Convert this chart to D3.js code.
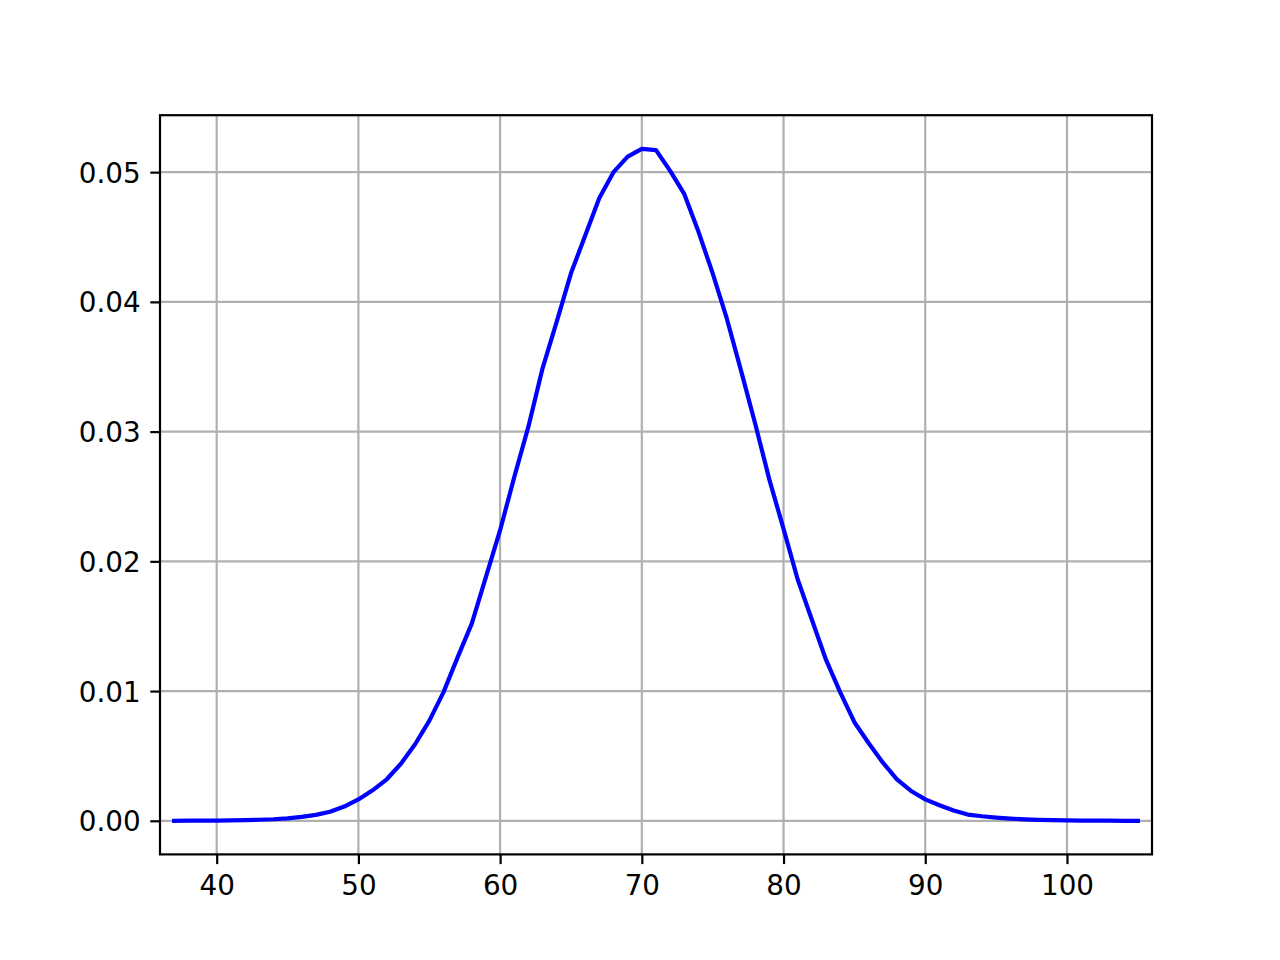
<!DOCTYPE html>
<html>
<head>
<meta charset="utf-8">
<script src="https://cdn.jsdelivr.net/npm/d3@7"></script>
<style>
    body { margin: 0; background: #fff; }
    svg { display: block; }
    text { font-family: "DejaVu Sans", sans-serif; }
</style>
</head>
<body>
<svg id="chart" width="1280" height="960"></svg>
<script>

// values, one per integer x
var xValues = [37, 38, 39, 40, 41, 42, 43, 44, 45, 46, 47, 48, 49, 50, 51, 52, 53, 54, 55, 56,
    57, 58, 59, 60, 61, 62, 63, 64, 65, 66, 67, 68, 69, 70, 71, 72, 73, 74, 75, 76,
    77, 78, 79, 80, 81, 82, 83, 84, 85, 86, 87, 88, 89, 90, 91, 92, 93, 94, 95, 96,
    97, 98, 99, 100, 101, 102, 103, 104, 105];

var yValues = [0.00000, 0.00001, 0.00001, 0.00002, 0.00003, 0.00005, 0.00008, 0.00012, 0.00019, 0.00030,
    0.00046, 0.00070, 0.00110, 0.00165, 0.00235, 0.00320, 0.00440, 0.00590, 0.00770, 0.00990,
    0.01260, 0.01520, 0.01880, 0.02240, 0.02650, 0.03040, 0.03490, 0.03850, 0.04220, 0.04510,
    0.04800, 0.05000, 0.05120, 0.05180, 0.05170, 0.05010, 0.04830, 0.04540, 0.04220, 0.03870,
    0.03470, 0.03060, 0.02630, 0.02250, 0.01860, 0.01550, 0.01240, 0.00990, 0.00760, 0.00600,
    0.00450, 0.00320, 0.00230, 0.00165, 0.00120, 0.00080, 0.00048, 0.00035, 0.00025, 0.00017,
    0.00011, 0.00007, 0.00005, 0.00003, 0.00002, 0.00001, 0.00001, 0.00000, 0.00000];

var xTicks = [40, 50, 60, 70, 80, 90, 100];
var yTicks = [0.00, 0.01, 0.02, 0.03, 0.04, 0.05];

var xDomain = [36, 106];

var svg = d3.select('#chart');

var width = +svg.attr('width'),
    height = +svg.attr('height'),
    margin = {top: 115.2, right: 128, bottom: 105.6, left: 160};

var plotW = width - margin.left - margin.right,
    plotH = height - margin.top - margin.bottom;

var data = xValues.map(function (x, i) {
    return {x: x, y: yValues[i]};
});

// matplotlib-like 5% padding on y
var yMax = d3.max(yValues), yMin = d3.min(yValues);
var yPad = (yMax - yMin) * 0.05;

var xScale = d3.scaleLinear()
    .domain(xDomain)
    .range([0, plotW]);

var yScale = d3.scaleLinear()
    .domain([yMin - yPad, yMax + yPad])
    .range([plotH, 0]);

var g = svg.append('g')
    .attr('transform', 'translate(' + margin.left + ',' + margin.top + ')');

var tickLen = 9.7, lw = 2.2;

// grid
g.append('g')
    .selectAll('line')
    .data(xTicks)
    .enter().append('line')
    .attr('x1', function (d) { return xScale(d); })
    .attr('x2', function (d) { return xScale(d); })
    .attr('y1', 0)
    .attr('y2', plotH)
    .attr('stroke', '#b0b0b0')
    .attr('stroke-width', lw);

g.append('g')
    .selectAll('line')
    .data(yTicks)
    .enter().append('line')
    .attr('x1', 0)
    .attr('x2', plotW)
    .attr('y1', function (d) { return yScale(d); })
    .attr('y2', function (d) { return yScale(d); })
    .attr('stroke', '#b0b0b0')
    .attr('stroke-width', lw);

// curve
var line = d3.line()
    .x(function (d) { return xScale(d.x); })
    .y(function (d) { return yScale(d.y); });

g.append('path')
    .datum(data)
    .attr('d', line)
    .attr('fill', 'none')
    .attr('stroke', '#0000ff')
    .attr('stroke-width', 4.2)
    .attr('stroke-linejoin', 'round')
    .attr('stroke-linecap', 'square');

// axes
var xAxis = d3.axisBottom(xScale)
    .tickValues(xTicks)
    .tickSize(tickLen)
    .tickPadding(9.7)
    .tickFormat(d3.format('d'));

var yAxis = d3.axisLeft(yScale)
    .tickValues(yTicks)
    .tickSize(tickLen)
    .tickPadding(9.7)
    .tickFormat(d3.format('.2f'));

var gx = g.append('g')
    .attr('transform', 'translate(0,' + plotH + ')')
    .call(xAxis);

var gy = g.append('g')
    .call(yAxis);

[gx, gy].forEach(function (ax) {
    ax.select('.domain').remove();
    ax.selectAll('.tick line')
        .attr('stroke', '#000')
        .attr('stroke-width', lw);
    ax.selectAll('.tick text')
        .attr('fill', '#000')
        .attr('font-size', 27.8)
        .attr('font-family', '"DejaVu Sans", sans-serif');
});

gx.selectAll('.tick text').attr('dy', '0.78em');
gy.selectAll('.tick text').attr('dy', '0.36em');

// spines
g.append('rect')
    .attr('x', 0)
    .attr('y', 0)
    .attr('width', plotW)
    .attr('height', plotH)
    .attr('fill', 'none')
    .attr('stroke', '#000')
    .attr('stroke-width', lw);

</script>
</body>
</html>
